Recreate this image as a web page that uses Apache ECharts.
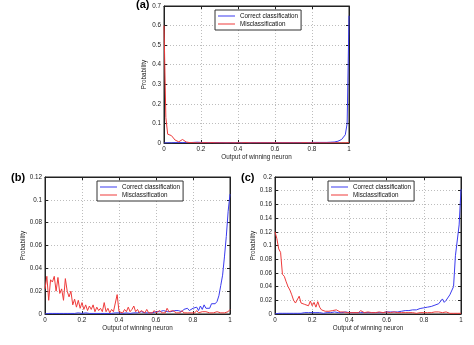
<!DOCTYPE html>
<html>
<head>
<meta charset="utf-8">
<script src="https://cdn.jsdelivr.net/npm/echarts@6/dist/echarts.min.js"></script>
<style>html,body{margin:0;padding:0;background:#fff}#c{width:474px;height:345px}</style>
</head>
<body>
<div id="c"></div>
<script>
// Bin positions (output of winning neuron)
var xBins = [0,0.01,0.02,0.03,0.04,0.05,0.06,0.07,0.08,0.09,
0.1,0.11,0.12,0.13,0.14,0.15,0.16,0.17,0.18,0.19,
0.2,0.21,0.22,0.23,0.24,0.25,0.26,0.27,0.28,0.29,
0.3,0.31,0.32,0.33,0.34,0.35,0.36,0.37,0.38,0.39,
0.4,0.41,0.42,0.43,0.44,0.45,0.46,0.47,0.48,0.49,
0.5,0.51,0.52,0.53,0.54,0.55,0.56,0.57,0.58,0.59,
0.6,0.61,0.62,0.63,0.64,0.65,0.66,0.67,0.68,0.69,
0.7,0.71,0.72,0.73,0.74,0.75,0.76,0.77,0.78,0.79,
0.8,0.81,0.82,0.83,0.84,0.85,0.86,0.87,0.88,0.89,
0.9,0.91,0.92,0.93,0.94,0.95,0.96,0.97,0.98,0.99,1];

var seriesNames = ['Correct classification', 'Misclassification'];
var panelLabels = ['(a)', '(b)', '(c)'];
var xAxisName = 'Output of winning neuron';
var yAxisName = 'Probability';
var yMax = [0.7, 0.12, 0.2];
var yStep = [0.1, 0.02, 0.02];

// Panel (a)
var aCorrect = [0,0.001,0.001,0.001,0.001,0.001,0.002,0.001,0.002,0.002,
0.002,0.002,0.002,0.002,0.002,0.002,0.003,0.003,0.004,0.003,
0.003,0.002,0.002,0.002,0.002,0.002,0.002,0.002,0.002,0.002,
0.002,0.001,0.002,0.002,0.001,0.002,0.002,0.002,0.001,0.002,
0.002,0.002,0.001,0.002,0.002,0.002,0.001,0.002,0.002,0.002,
0.002,0.002,0.002,0.001,0.002,0.002,0.002,0.002,0.002,0.002,
0.002,0.002,0.002,0.002,0.002,0.002,0.002,0.002,0.002,0.002,
0.002,0.002,0.002,0.002,0.002,0.002,0.002,0.002,0.002,0.003,
0.003,0.003,0.003,0.003,0.003,0.003,0.003,0.003,0.003,0.003,
0.004,0.004,0.005,0.007,0.009,0.013,0.018,0.026,0.042,0.1,0.65];
var aMis = [0.6,0.13,0.045,0.04,0.038,0.03,0.015,0.008,0.006,0.01,
0.018,0.012,0.005,0.003,0.002,0.001,0.002,0.001,0.001,0.002,
0.001,0.001,0.002,0.001,0.001,0.001,0.002,0.001,0.001,0.001,
0.001,0.001,0.001,0.002,0.001,0.001,0.001,0.001,0.001,0.001,
0.001,0.001,0.001,0.001,0.002,0.001,0.001,0.001,0.001,0.001,
0.001,0.001,0.001,0.001,0.001,0.001,0.001,0.001,0.001,0.001,
0.001,0.001,0.001,0.001,0.001,0.001,0.001,0.001,0.001,0.001,
0.001,0.001,0.001,0.001,0.001,0.001,0.002,0.001,0.001,0.001,
0.001,0.001,0.001,0.001,0.001,0.001,0.001,0.001,0.001,0.001,
0.001,0.001,0.001,0.001,0.001,0.001,0.001,0.001,0.001,0.002,0.002];

// Panel (b)
var bCorrect = [0,0.0005,0.0005,0.0005,0.0005,0.0005,0.0005,0.0005,0.0005,0.0005,
0.0005,0.0005,0.0005,0.001,0.0005,0.0005,0.0005,0.0005,0.001,0.0005,
0.0005,0.0005,0.001,0.0005,0.0005,0.0005,0.0005,0.001,0.0005,0.0005,
0.0005,0.001,0.0005,0.0005,0.0005,0.001,0.0005,0.0005,0.001,0.0005,
0.001,0.001,0.0005,0.001,0.001,0.001,0.0005,0.001,0.001,0.001,
0.001,0.001,0.002,0.001,0.001,0.002,0.001,0.002,0.001,0.002,
0.002,0.001,0.002,0.002,0.003,0.002,0.002,0.003,0.002,0.003,
0.003,0.002,0.003,0.004,0.002,0.004,0.003,0.005,0.003,0.004,
0.005,0.004,0.006,0.003,0.007,0.004,0.008,0.005,0.006,0.005,
0.009,0.01,0.009,0.011,0.016,0.025,0.034,0.05,0.068,0.09,0.105];
var bMis = [0.022,0.033,0.012,0.03,0.028,0.033,0.02,0.032,0.018,0.022,
0.012,0.031,0.02,0.015,0.02,0.008,0.013,0.006,0.012,0.005,
0.01,0.004,0.008,0.003,0.007,0.004,0.008,0.002,0.006,0.003,
0.005,0.002,0.01,0.002,0.005,0.001,0.004,0.002,0.003,0.017,
0.002,0.003,0.001,0.004,0.002,0.006,0.002,0.004,0.007,0.002,
0.004,0.001,0.003,0.002,0.001,0.004,0.001,0.002,0.001,0.003,
0.001,0.002,0.003,0.001,0.002,0.001,0.005,0.002,0.001,0.003,
0.004,0.001,0.002,0.001,0.003,0.001,0.002,0.001,0.002,0.001,
0.002,0.001,0.003,0.001,0.001,0.002,0.001,0.002,0.001,0.001,
0.002,0.001,0.001,0.002,0.001,0.001,0.002,0.001,0.001,0.002,0.004];

// Panel (c)
var cCorrect = [0,0.001,0.001,0.001,0.001,0.001,0.001,0.001,0.001,0.001,
0.001,0.001,0.001,0.001,0.001,0.001,0.002,0.001,0.002,0.001,
0.002,0.001,0.002,0.001,0.002,0.002,0.001,0.002,0.002,0.002,
0.002,0.002,0.003,0.003,0.002,0.003,0.002,0.002,0.003,0.002,
0.002,0.002,0.002,0.002,0.002,0.002,0.002,0.002,0.002,0.002,
0.002,0.002,0.002,0.003,0.002,0.002,0.002,0.003,0.002,0.003,
0.003,0.003,0.003,0.003,0.003,0.003,0.003,0.003,0.004,0.004,
0.005,0.005,0.005,0.006,0.006,0.007,0.006,0.007,0.008,0.008,
0.009,0.008,0.01,0.01,0.011,0.012,0.013,0.014,0.015,0.017,
0.022,0.017,0.02,0.022,0.028,0.03,0.04,0.085,0.085,0.13,0.182];
var cMis = [0.12,0.11,0.095,0.09,0.058,0.055,0.047,0.04,0.035,0.028,
0.02,0.016,0.018,0.026,0.016,0.015,0.014,0.013,0.012,0.019,
0.012,0.017,0.01,0.018,0.01,0.006,0.005,0.004,0.006,0.004,
0.006,0.005,0.007,0.006,0.004,0.003,0.004,0.003,0.003,0.002,
0.003,0.002,0.003,0.002,0.003,0.002,0.005,0.003,0.002,0.002,
0.003,0.002,0.002,0.003,0.002,0.002,0.003,0.002,0.002,0.002,
0.003,0.002,0.002,0.002,0.003,0.002,0.002,0.002,0.002,0.002,
0.002,0.002,0.002,0.001,0.002,0.002,0.001,0.002,0.002,0.002,
0.002,0.002,0.002,0.003,0.002,0.002,0.003,0.002,0.003,0.003,
0.002,0.002,0.003,0.002,0.001,0.002,0.001,0.001,0.001,0.001,0.001];

var panels = [[aCorrect, aMis], [bCorrect, bMis], [cCorrect, cMis]];

// Layout (pixels)
var grids = [
  {left: 164, top: 6, width: 185, height: 137},
  {left: 45, top: 177, width: 185, height: 137},
  {left: 275, top: 177, width: 186, height: 137}
];
var legendPos = [{left: 215, top: 10}, {left: 97, top: 181}, {left: 328, top: 181}];
var labelPos = [{left: 136, top: -1}, {left: 11, top: 172}, {left: 241, top: 172}];
var colors = ['#3a3aee', '#ee3a3a'];
var FONT = 'Liberation Sans, Arial, sans-serif';

function pairs(xs, ys) { return xs.map(function (x, i) { return [x, ys[i]]; }); }

var option = {
  backgroundColor: '#fff',
  animation: false,
  textStyle: {fontFamily: FONT},
  title: [], grid: [], xAxis: [], yAxis: [], series: [], legend: []
};

var gridLine = {show: true, lineStyle: {color: '#bdbdbd', type: [1, 2], width: 1}};
var tickIn = {show: true, inside: true, length: 3, lineStyle: {color: '#222'}};
var axLine = {show: true, onZero: false, lineStyle: {color: '#222', width: 1}};

for (var p = 0; p < 3; p++) {
  var g = grids[p];
  option.grid.push({left: g.left, top: g.top, width: g.width, height: g.height,
    show: true, borderColor: '#222', borderWidth: 1, backgroundColor: '#fff'});
  option.title.push({text: panelLabels[p], left: labelPos[p].left, top: labelPos[p].top, padding: 0,
    textStyle: {fontSize: 11, fontWeight: 'bold', color: '#000', fontFamily: FONT}});
  option.xAxis.push({type: 'value', gridIndex: p, min: 0, max: 1, interval: 0.2,
    name: xAxisName, nameLocation: 'middle', nameGap: 11,
    nameTextStyle: {fontSize: 6.3, color: '#222'},
    axisLine: axLine, axisTick: tickIn,
    axisLabel: {fontSize: 6.3, color: '#222', margin: 3},
    splitLine: gridLine});
  option.yAxis.push({type: 'value', gridIndex: p, min: 0, max: yMax[p], interval: yStep[p],
    name: yAxisName, nameLocation: 'middle', nameGap: 17,
    nameTextStyle: {fontSize: 6.3, color: '#222'},
    axisLine: axLine, axisTick: tickIn,
    axisLabel: {fontSize: 6.3, color: '#222', margin: 3},
    splitLine: gridLine});
  for (var s = 0; s < 2; s++) {
    option.series.push({type: 'line', name: seriesNames[s], xAxisIndex: p, yAxisIndex: p,
      data: pairs(xBins, panels[p][s]), symbol: 'none', showSymbol: false,
      lineStyle: {color: colors[s], width: 1}, itemStyle: {color: colors[s]}, z: 2 + s});
  }
  option.legend.push({left: legendPos[p].left, top: legendPos[p].top, orient: 'vertical',
    data: seriesNames.map(function (n) { return {name: n, icon: 'rect'}; }),
    itemWidth: 17, itemHeight: 1, itemGap: 2,
    padding: [3, 3, 3, 3], borderColor: '#333', borderWidth: 1, backgroundColor: '#fff',
    selectedMode: false,
    textStyle: {fontSize: 6.3, color: '#111', padding: [0, 0, 0, 0]}});
}
// mirrored top/right axes (box ticks)
for (var q = 0; q < 3; q++) {
  option.xAxis.push({type: 'value', gridIndex: q, position: 'top', min: 0, max: 1, interval: 0.2,
    axisLine: axLine, axisTick: tickIn, axisLabel: {show: false}, splitLine: {show: false}});
  option.yAxis.push({type: 'value', gridIndex: q, position: 'right', min: 0, max: yMax[q], interval: yStep[q],
    axisLine: axLine, axisTick: tickIn, axisLabel: {show: false}, splitLine: {show: false}});
}

var chart = echarts.init(document.getElementById('c'), null, {renderer: 'canvas'});
chart.setOption(option);
</script>
</body>
</html>
